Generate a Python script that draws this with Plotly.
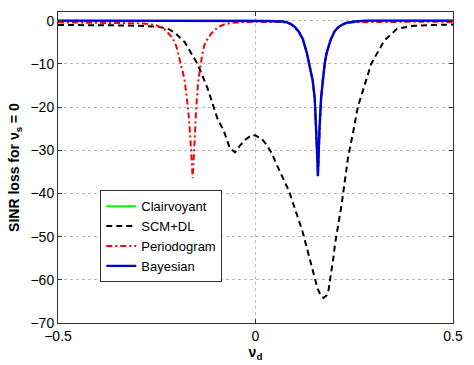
import plotly.graph_objects as go

# Clairvoyant (green, hidden under the Bayesian curve in the picture)
clair_x = [-0.5, -0.3, -0.1, 0.0, 0.07, 0.08, 0.09, 0.1, 0.11, 0.12, 0.13, 0.14, 0.145,
           0.15, 0.154, 0.157, 0.158, 0.159, 0.162, 0.166, 0.17, 0.175, 0.18, 0.19, 0.2,
           0.21, 0.22, 0.23, 0.25, 0.28, 0.4, 0.5]
clair_y = [0.0, 0.0, 0.0, 0.0, -0.2, -0.4, -0.8, -1.5, -2.6, -4.3, -7.5, -11.5, -14.0,
           -18.0, -25.0, -33.0, -36.0, -33.0, -25.0, -18.0, -13.5, -10.0, -7.5, -4.5, -2.5,
           -1.5, -0.9, -0.5, -0.2, 0.0, 0.0, 0.0]

# SCM+DL (black dashed)
scm_x = [-0.5, -0.45, -0.4, -0.35, -0.3, -0.27, -0.246, -0.221, -0.204, -0.179, -0.147,
         -0.122, -0.097, -0.08, -0.065, -0.052, -0.04, -0.025, -0.01, 0.0, 0.015, 0.027,
         0.04, 0.052, 0.085, 0.119, 0.134, 0.157, 0.166, 0.172, 0.18, 0.185, 0.197, 0.201,
         0.218, 0.234, 0.251, 0.259, 0.293, 0.326, 0.358, 0.4, 0.45, 0.5]
scm_y = [-1.0, -1.0, -1.0, -1.1, -1.2, -1.3, -1.4, -1.9, -2.8, -5.0, -10.0,
         -15.5, -22.5, -25.6, -29.5, -30.5, -29.0, -27.5, -26.5, -26.6, -27.3, -28.6,
         -30.5, -33.0, -39.5, -48.8, -54.0, -62.0, -63.8, -64.2, -63.6, -62.3, -55.0, -51.9,
         -42.6, -31.9, -24.0, -20.0, -10.0, -4.6, -1.9, -1.2, -1.0, -0.9]

# Periodogram (red dash-dot)
per_x = [-0.5, -0.45, -0.4, -0.35, -0.3, -0.27, -0.25, -0.23, -0.21, -0.2, -0.19, -0.18,
         -0.175, -0.17, -0.165, -0.161, -0.159, -0.157, -0.153, -0.15, -0.145, -0.14,
         -0.135, -0.13, -0.12, -0.11, -0.1, -0.09, -0.08, -0.06, -0.03, 0.0, 0.03, 0.06,
         0.08, 0.09, 0.1, 0.11, 0.12, 0.13, 0.14, 0.145, 0.15, 0.154, 0.157, 0.158, 0.159,
         0.162, 0.166, 0.17, 0.175, 0.18, 0.19, 0.2, 0.21, 0.22, 0.23, 0.25, 0.3, 0.35,
         0.4, 0.45, 0.5]
per_y = [-0.4, -0.45, -0.4, -0.5, -0.6, -0.8, -1.1, -2.0, -4.0, -6.0, -9.5, -13.5,
         -17.0, -21.0, -27.0, -33.0, -36.5, -33.0, -25.0, -20.0, -14.0, -10.5,
         -8.0, -5.8, -4.0, -2.8, -1.9, -1.3, -0.9, -0.5, -0.3, -0.2, -0.3, -0.3,
         -0.5, -0.9, -1.6, -2.7, -4.4, -7.6, -11.6, -14.2, -18.2, -25.0, -33.0, -35.8, -33.0,
         -25.0, -18.0, -13.5, -10.0, -7.5, -4.5, -2.5, -1.5, -0.9, -0.5, -0.35, -0.25, -0.3,
         -0.25, -0.3, -0.3]

# Bayesian (blue)
bay_x = [-0.5, -0.4, -0.3, -0.2, -0.1, -0.05, 0.0, 0.03, 0.07,
         0.08, 0.09, 0.1, 0.11, 0.12, 0.13, 0.14, 0.145, 0.15, 0.154, 0.157, 0.158, 0.159,
         0.162, 0.166, 0.17, 0.175, 0.18, 0.19, 0.2, 0.21, 0.22, 0.23, 0.25, 0.28, 0.4, 0.5]
bay_y = [0.0, 0.0, 0.0, 0.0, 0.0, -0.05, -0.1, -0.1, -0.2,
         -0.4, -0.8, -1.5, -2.6, -4.3, -7.5, -11.5, -14.0, -18.0, -25.0, -33.0, -36.0, -33.0,
         -25.0, -18.0, -13.5, -10.0, -7.5, -4.5, -2.5, -1.5, -0.9, -0.5, -0.2, 0.0, 0.0, 0.0]

x_ticks = [-0.5, 0, 0.5]
x_ticklabels = ["\u22120.5", "0", "0.5"]
y_ticks = [0, -10, -20, -30, -40, -50, -60, -70]
y_ticklabels = ["0", "\u221210", "\u221220", "\u221230", "\u221240", "\u221250", "\u221260", "\u221270"]

FONT = "Liberation Sans, Arial, Helvetica, sans-serif"

fig = go.Figure()
fig.add_trace(go.Scatter(x=clair_x, y=clair_y, mode="lines", name="Clairvoyant",
                         line=dict(color="#00ff00", width=2)))
fig.add_trace(go.Scatter(x=scm_x, y=scm_y, mode="lines", name="SCM+DL",
                         line=dict(color="black", width=2, dash="6px,4px")))
fig.add_trace(go.Scatter(x=per_x, y=per_y, mode="lines", name="Periodogram",
                         line=dict(color="#ff0000", width=2, dash="6px,3px,2px,3px")))
fig.add_trace(go.Scatter(x=bay_x, y=bay_y, mode="lines", name="Bayesian",
                         line=dict(color="#0000dd", width=2.4)))

axis_common = dict(showline=True, linecolor="#333", linewidth=1, mirror="ticks",
                   ticks="inside", ticklen=4, tickcolor="#333",
                   showgrid=True, gridcolor="#bbbbbb", griddash="dot", gridwidth=1,
                   zeroline=False, tickfont=dict(family=FONT, size=14, color="black"))

fig.update_xaxes(range=[-0.5, 0.5], tickvals=x_ticks, ticktext=x_ticklabels,
                 title=dict(text="<b>\u03bd<sub>d</sub></b>", font=dict(family=FONT, size=14, color="black"),
                            standoff=0),
                 **axis_common)
fig.update_yaxes(range=[-70, 2], tickvals=y_ticks, ticktext=y_ticklabels,
                 title=dict(text="<b>SINR loss for \u03bd<sub>s</sub> = 0</b>",
                            font=dict(family=FONT, size=14, color="black"), standoff=7),
                 **axis_common)

fig.update_layout(
    width=474, height=365,
    margin=dict(l=58, r=14, t=11, b=39),
    paper_bgcolor="white", plot_bgcolor="white",
    font=dict(family=FONT, size=14, color="black"),
    legend=dict(x=0.107, y=0.279, xanchor="left", yanchor="middle",
                bgcolor="white", bordercolor="#333", borderwidth=1,
                font=dict(family=FONT, size=13, color="black"),
                traceorder="normal", itemwidth=30, tracegroupgap=0),
    showlegend=True,
)

fig.write_html("out.html", config={"displayModeBar": False},
               post_script="document.body.style.margin='0';document.body.style.overflow='hidden';")
